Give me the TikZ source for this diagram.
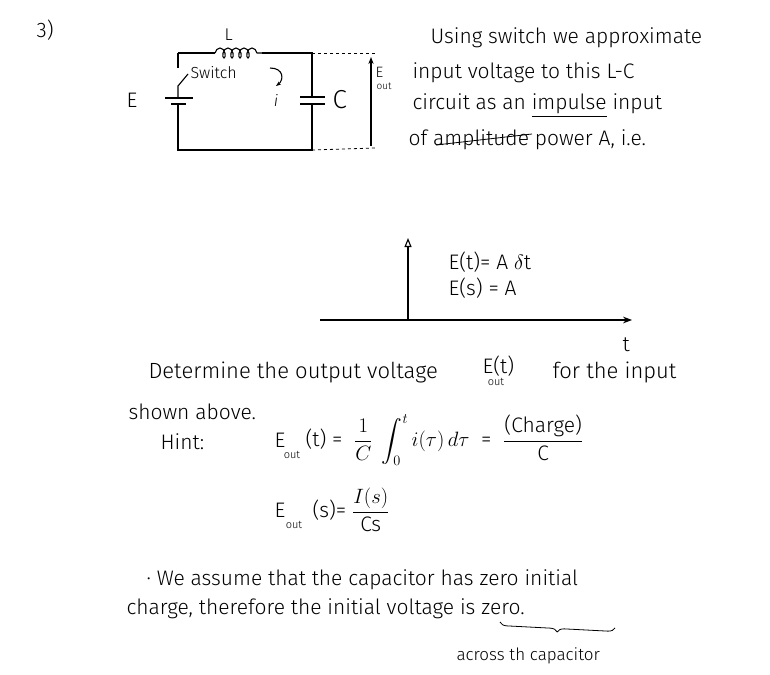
\documentclass[tikz,border=0pt]{standalone}
\usepackage{amsmath}
\usepackage{fontspec}
\setmainfont{Fira Sans Light}
\usetikzlibrary{decorations.pathmorphing,decorations.pathreplacing,arrows.meta}
\begin{document}
\begin{tikzpicture}[x=1pt,y=-1pt,line width=1.1pt,
  hw/.style={font=\fontsize{21}{24}\selectfont,anchor=west,inner sep=0pt},
  sm/.style={font=\fontsize{16}{18}\selectfont,inner sep=0pt}]
\useasboundingbox (0,0) rectangle (770,674);
\node[hw] (n3) at (36,30) {3)};
% circuit
\coordinate (tl) at (178,53); \coordinate (tr) at (312,53);
\coordinate (bl) at (178,150); \coordinate (br) at (312,150);
\draw (tl) -- (215,53);
\draw[decorate,decoration={coil,aspect=0.6,segment length=8pt,amplitude=5pt}] (215,53) -- (262,53);
\draw (262,53) -- (tr) -- (312,97);
\draw (312,104) -- (br) -- (bl) -- (178,104);
\draw (178,98) -- (178,86) -- (188,74);
\draw (tl) -- (178,68);
\draw (165,98) -- (193,98); \draw (171,104) -- (186,104);
\draw (300,97) -- (325,97); \draw (300,104) -- (325,104);
\draw[dashed,line width=0.8pt] (tr) -- (375,53);
\draw[dashed,line width=0.8pt] (br) -- (375,148);
\draw[-{Stealth[length=7pt]}] (371,146) -- (371,57);
\node[hw,font=\fontsize{17}{19}\selectfont] (L) at (224,35) {L};
\node[hw] (E) at (126,100) {E};
\node[hw,font=\fontsize{26}{28}\selectfont] (C) at (332,100) {C};
\node[sm,anchor=west,font=\fontsize{15}{16}\selectfont] (Eo) at (375,72) {E};
\node[sm,anchor=west,font=\fontsize{10}{11}\selectfont] (out1) at (376,86) {out};
\node[sm,anchor=west] (sw) at (190,73) {Switch};
\draw[-{Stealth[length=5pt]}] (270,68) .. controls (284,68) and (284,80) .. (276,86);
\node[sm] (i) at (276,100) {\itshape i};
% text right
\node[hw] (t1) at (430,38) {Using switch we approximate};
\node[hw] (t2) at (412,73) {input voltage to this L-C};
\node[hw] (t3) at (412,106) {circuit as an \underline{impulse} input};
\node[hw] (t4) at (408,140) {of amplitude power A, i.e.};
\draw[line width=0.8pt] (436,145) -- (532,134);
% plot
\coordinate (o) at (408,320);
\draw[-{Triangle[open,length=9pt,width=7pt]}] (o) -- (408,238);
\draw[-{Stealth[length=9pt]}] (320,320) -- (632,320);
\node[hw] (p1) at (448,262) {E(t)= A $\delta$t};
\node[hw] (p2) at (448,288) {E(s) = A};
\node[hw] (tt) at (622,345) {t};
% bottom text
\node[hw,font=\fontsize{22}{24}\selectfont] (d1) at (148,372) {Determine the output voltage};
\node[hw] (d2) at (482,366) {E(t)};
\node[sm,font=\fontsize{11}{12}\selectfont] (d3) at (496,382) {out};
\node[hw,font=\fontsize{22}{24}\selectfont] (d4) at (552,372) {for the input};
\node[hw] (d5) at (128,412) {shown above.};
\node[hw] (h) at (160,442) {Hint:};
\node[hw] (h1) at (274,440) {E};
\node[sm,font=\fontsize{11}{12}\selectfont] (h1o) at (292,455) {out};
\node[hw] (h2) at (305,440) {(t) =\; $\dfrac{1}{C}\;\displaystyle\int_{0}^{t} i(\tau)\,d\tau$ \;=\; $\dfrac{\text{(Charge)}}{\text{C}}$};
\node[hw] (g1) at (274,510) {E};
\node[sm,font=\fontsize{11}{12}\selectfont] (g1o) at (294,525) {out};
\node[hw] (g2) at (312,510) {(s)= $\dfrac{I(s)}{\text{Cs}}$};
\node[hw] (w1) at (146,580) {· We assume that the capacitor has zero initial};
\node[hw] (w2) at (126,609) {charge, therefore the initial voltage is zero.};
\draw[decorate,decoration={brace,amplitude=7pt},line width=0.8pt] (615,628) -- (500,622);
\node[hw,font=\fontsize{17}{19}\selectfont] (w3) at (456,656) {across th capacitor};
\end{tikzpicture}
\end{document}
